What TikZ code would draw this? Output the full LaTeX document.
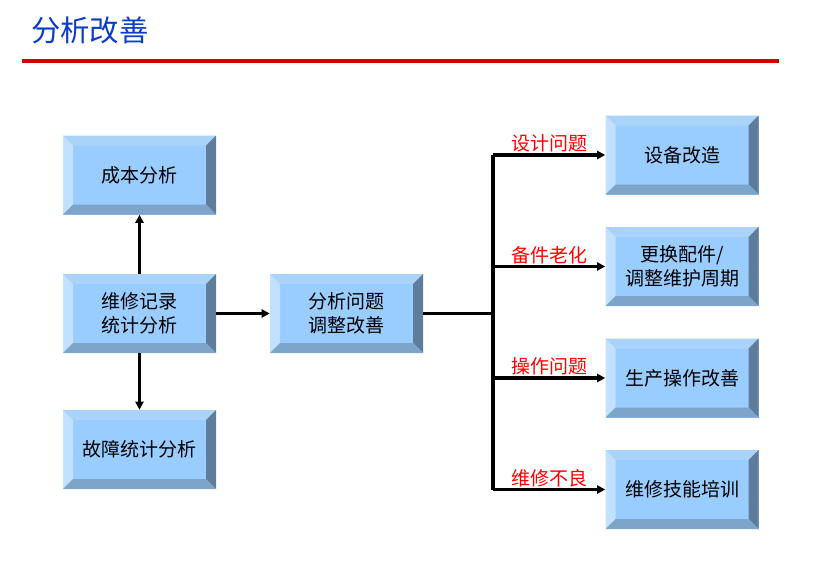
\documentclass[tikz,border=0pt]{standalone}
\usepackage{fontspec}
\setmainfont{Noto Sans CJK SC}
\usetikzlibrary{arrows.meta,calc}
\definecolor{bvfront}{HTML}{99CCFF}
\definecolor{bvtop}{HTML}{AAD3FA}
\definecolor{bvleft}{HTML}{C2E0FF}
\definecolor{bvright}{HTML}{5E7D9B}
\definecolor{bvbot}{HTML}{7DA4C9}
\definecolor{titleblue}{HTML}{0A3CC8}
\definecolor{rulered}{HTML}{D00000}
\tikzset{
  bevbox/.style={rectangle, inner sep=0pt, minimum width=114.75pt, minimum height=59.25pt,
    fill=bvfront, align=center, font=\fontsize{14.25}{18}\selectfont,
    path picture={
      \coordinate (pNW) at (path picture bounding box.north west);
      \coordinate (pNE) at (path picture bounding box.north east);
      \coordinate (pSW) at (path picture bounding box.south west);
      \coordinate (pSE) at (path picture bounding box.south east);
      \fill[bvtop] (pNW) -- (pNE) -- ([shift={(-10,10)}]pNE) -- ([shift={(10,10)}]pNW) -- cycle;
      \fill[bvleft] (pNW) -- ([shift={(10,10)}]pNW) -- ([shift={(10,-10)}]pSW) -- (pSW) -- cycle;
      \fill[bvright] (pNE) -- (pSE) -- ([shift={(-10,-10)}]pSE) -- ([shift={(-10,10)}]pNE) -- cycle;
      \fill[bvbot] (pSW) -- (pSE) -- ([shift={(-10,-10)}]pSE) -- ([shift={(10,-10)}]pSW) -- cycle;
    }},
  thinarrow/.style={line width=1.6pt, -{Triangle[length=6pt,width=6pt]}},
  thickline/.style={line width=2.3pt},
  branch/.style={line width=2.3pt, -{Triangle[length=6pt,width=6pt]}},
  redlabel/.style={text=red, font=\fontsize{14.25}{18}\selectfont, inner sep=1pt, above},
}
\begin{document}
\begin{tikzpicture}[x=0.75pt,y=-0.75pt]
\useasboundingbox (0,0) rectangle (831,567);
\node[anchor=west, text=titleblue, font=\fontsize{22}{26}\selectfont, inner sep=0pt] (title) at (31,30) {分析改善};
\draw[rulered, line width=2.3pt] (22,61) coordinate (rl) -- (779,61) coordinate (rr);

\node[bevbox] (b1) at (139.5,175) {成本分析};
\node[bevbox] (b2) at (139.5,313.5) {维修记录\\统计分析};
\node[bevbox] (b3) at (139.5,449.5) {故障统计分析};
\node[bevbox] (b4) at (346.5,313.5) {分析问题\\调整改善};
\node[bevbox] (r1) at (682,155) {设备改造};
\node[bevbox] (r2) at (682,266.5) {更换配件/\\调整维护周期};
\node[bevbox] (r3) at (682,378) {生产操作改善};
\node[bevbox] (r4) at (682,489.5) {维修技能培训};

\draw[thinarrow] (b2.north) -- (b1.south);
\draw[thinarrow] (b2.south) -- (b3.north);
\draw[thinarrow] (b2.east) -- (b4.west);

\coordinate (j) at (493,313.5);
\draw[thickline] (b4.east) -- (j);
\draw[thickline] (j |- r1.west) -- (j |- r4.west);
\draw[branch] (j |- r1.west) -- node[redlabel] {设计问题} (r1.west);
\draw[branch] (j |- r2.west) -- node[redlabel] {备件老化} (r2.west);
\draw[branch] (j |- r3.west) -- node[redlabel] {操作问题} (r3.west);
\draw[branch] (j |- r4.west) -- node[redlabel] {维修不良} (r4.west);
\end{tikzpicture}
\end{document}
